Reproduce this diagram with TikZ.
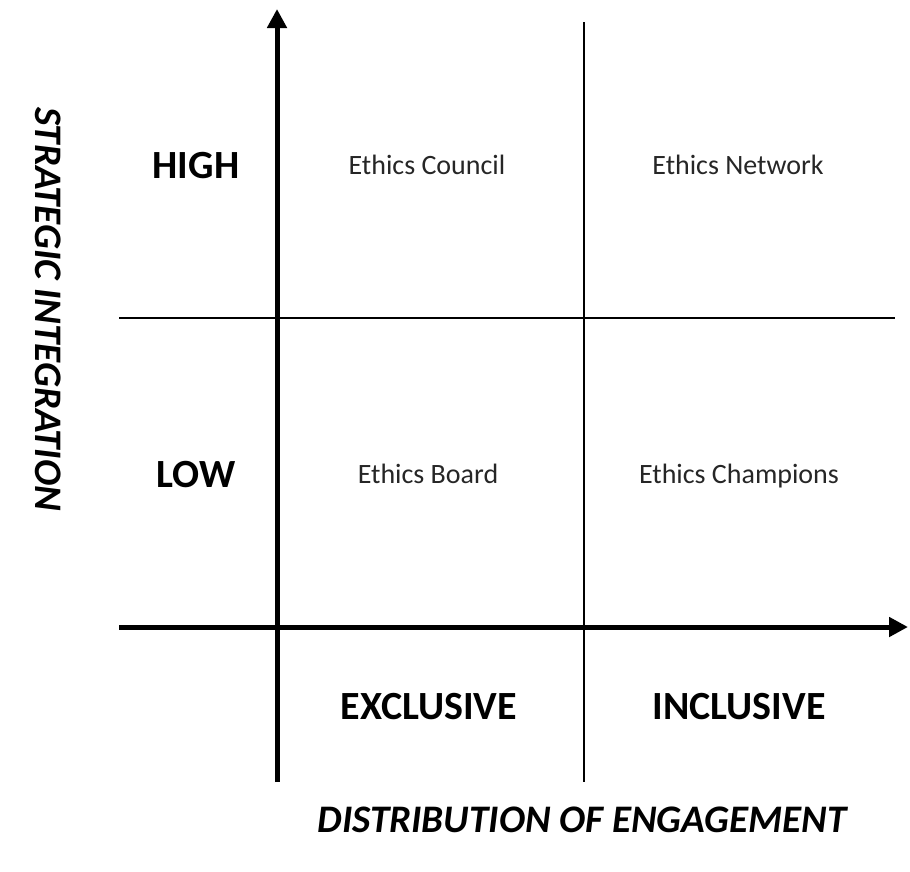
\documentclass[tikz,border=0pt]{standalone}
\usepackage{fontspec}
\setmainfont{Carlito}
\usetikzlibrary{arrows.meta}

\begin{document}
\begin{tikzpicture}[x=1pt, y=-1pt,
    axis/.style={line width=5pt, -{Triangle[width=19pt,length=19pt]}},
    gridline/.style={line width=1.8pt},
    level/.style={anchor=base, font=\fontsize{40}{42}\selectfont\bfseries},
    cell/.style={anchor=base, font=\fontsize{28}{32}\selectfont, text=black!85},
    axtitle/.style={font=\fontsize{39}{42}\selectfont\bfseries\itshape}]
  \useasboundingbox (0,0) rectangle (910,871);
  \coordinate (xl) at (119,627);
  \coordinate (xr) at (908,627);
  \coordinate (yb) at (277,782);
  \coordinate (yt) at (277,9);
  \coordinate (vt) at (584,22);
  \coordinate (vb) at (584,782);
  \coordinate (hl) at (119,318);
  \coordinate (hr) at (895,318);
  \draw[gridline] (vt) -- (vb);
  \draw[gridline] (hl) -- (hr);
  \draw[axis] (xl) -- (xr);
  \draw[axis] (yb) -- (yt);
  \node[level] (high) at (196,178) {HIGH};
  \node[level] (low) at (196,487) {LOW};
  \node[cell] (council) at (427,174) {Ethics Council};
  \node[cell] (network) at (738,174) {Ethics Network};
  \node[cell] (board) at (428,483) {Ethics Board};
  \node[cell] (champions) at (739,483) {Ethics Champions};
  \node[level] (excl) at (429,719) {EXCLUSIVE};
  \node[level] (incl) at (739,719) {INCLUSIVE};
  \node[axtitle] (distr) at (582,820) {DISTRIBUTION OF ENGAGEMENT};
  \node[axtitle, rotate=-90] (strat) at (48,309) {STRATEGIC INTEGRATION};
\end{tikzpicture}
\end{document}
